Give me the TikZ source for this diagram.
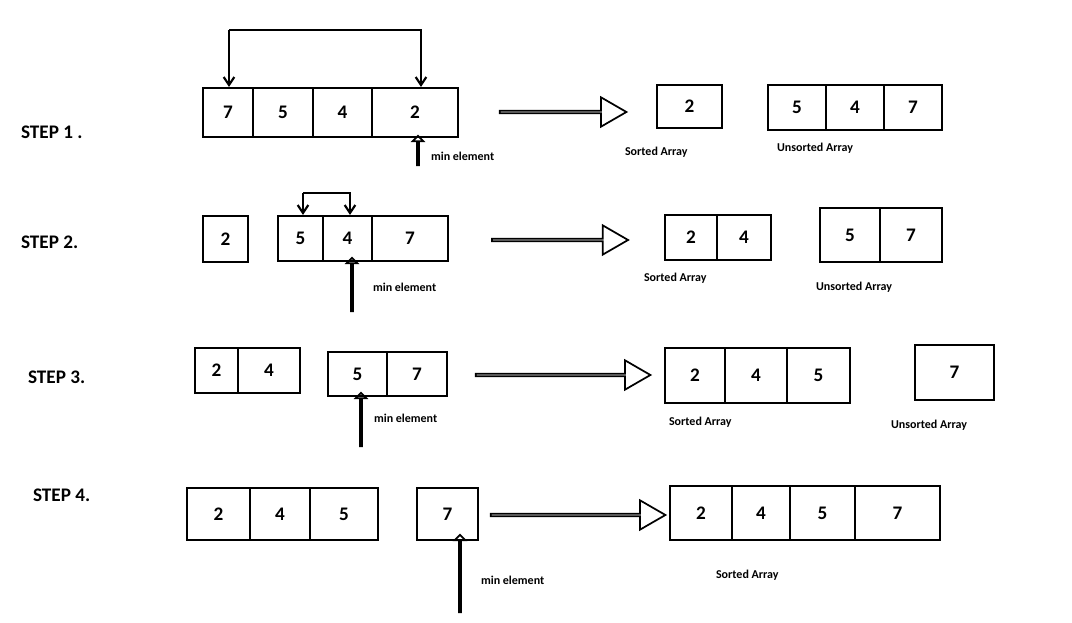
\documentclass[tikz,border=0pt]{standalone}
\usepackage{fontspec}
\setmainfont{Carlito}
\usetikzlibrary{shapes.arrows,arrows.meta}
\begin{document}
\begin{tikzpicture}[x=0.75pt,y=-0.75pt,line width=1.6pt,
 cell/.style={draw,minimum height=#1,inner sep=0pt,font=\bfseries\Large},
 lbl/.style={font=\bfseries\small,anchor=west,inner sep=0pt},
 stepl/.style={font=\bfseries\Large,anchor=west,inner sep=0pt},
 bigarrow/.style={draw,single arrow,single arrow head extend=7pt,single arrow tip angle=60,minimum height=#1,minimum width=22pt,inner sep=0pt,line width=1.3pt},
 uparrow/.style={draw,single arrow,shape border rotate=90,single arrow head extend=3pt,minimum height=#1,minimum width=8pt,inner sep=0pt,line width=1.3pt},
 swap/.style={-{Straight Barb[length=6pt,width=8pt]},line width=1.6pt}]
\useasboundingbox (0,0) rectangle (1072,623);
% helper: row of cells
\newcommand{\cellrow}[6]{% name, x0, y0, height, widths-values list
 \foreach \a/\b/\v [count=\i] in {#5} {\node[cell=#4*0.75pt,minimum width=(\b-\a)*0.75pt] (#1\i) at ({(\a+\b)/2},{#3+#4/2}) {\v};}}
% STEP 1
\node[stepl] (s1) at (20,132) {STEP 1 .};
\cellrow{a}{203}{88}{49}{203/253/7,253/313/5,313/372/4,372/458/2}{}
\coordinate (t1) at (229,30); \coordinate (t2) at (421,30);
\draw[swap] (229,88 |- t1) -- (t1) -- (t2) -- (a4.north -| t2);
\draw[swap] (t1) -- (a1.north -| t1);
\node[uparrow=22pt] (m1) at (418,151) {};
\node[lbl] (ml1) at (430,156) {min element};
\node[bigarrow=95pt] (b1) at (562,112) {};
\cellrow{sa}{657}{85}{43}{657/722/2}{}
\node[lbl] (sl1) at (624,152) {Sorted Array};
\cellrow{ua}{768}{85}{45}{768/826/5,826/884/4,884/942/7}{}
\node[lbl] (ul1) at (776,148) {Unsorted Array};
% STEP 2
\node[stepl] (s2) at (20,242) {STEP 2.};
\cellrow{p}{203}{216}{46}{203/248/2}{}
\cellrow{b}{278}{216}{45}{278/323/5,323/372/4,372/448/7}{}
\coordinate (t3) at (303,193); \coordinate (t4) at (350,193);
\draw[swap] (t3) -- (t4) -- (b2.north -| t4);
\draw[swap] (t3) -- (b1.north -| t3);
\node[uparrow=40pt] (m2) at (352,285) {};
\node[lbl] (ml2) at (372,287) {min element};
\node[bigarrow=102pt] (b2a) at (559,240) {};
\cellrow{sb}{665}{215}{45}{665/717/2,717/771/4}{}
\node[lbl] (sl2) at (643,278) {Sorted Array};
\cellrow{ub}{820}{208}{54}{820/880/5,880/942/7}{}
\node[lbl] (ul2) at (815,287) {Unsorted Array};
% STEP 3
\node[stepl] (s3) at (27,377) {STEP 3.};
\cellrow{c}{195}{348}{45}{195/238/2,238/300/4}{}
\cellrow{d}{328}{352}{44}{328/387/5,387/447/7}{}
\node[uparrow=40pt] (m3) at (361,420) {};
\node[lbl] (ml3) at (373,418) {min element};
\node[bigarrow=131pt] (b3) at (562,375) {};
\cellrow{sc}{665}{348}{55}{665/725/2,725/787/4,787/850/5}{}
\node[lbl] (sl3) at (668,422) {Sorted Array};
\cellrow{uc}{915}{345}{55}{915/994/7}{}
\node[lbl] (ul3) at (890,425) {Unsorted Array};
% STEP 4
\node[stepl] (s4) at (32,495) {STEP 4.};
\cellrow{e}{187}{488}{52}{187/250/2,250/310/4,310/378/5}{}
\cellrow{f}{417}{488}{52}{417/478/7}{}
\node[uparrow=58pt] (m4) at (460,574) {};
\node[lbl] (ml4) at (480,580) {min element};
\node[bigarrow=131pt] (b4) at (577,515) {};
\cellrow{sd}{670}{486}{54}{670/732/2,732/790/4,790/855/5,855/940/7}{}
\node[lbl] (sl4) at (715,575) {Sorted Array};
\end{tikzpicture}
\end{document}
